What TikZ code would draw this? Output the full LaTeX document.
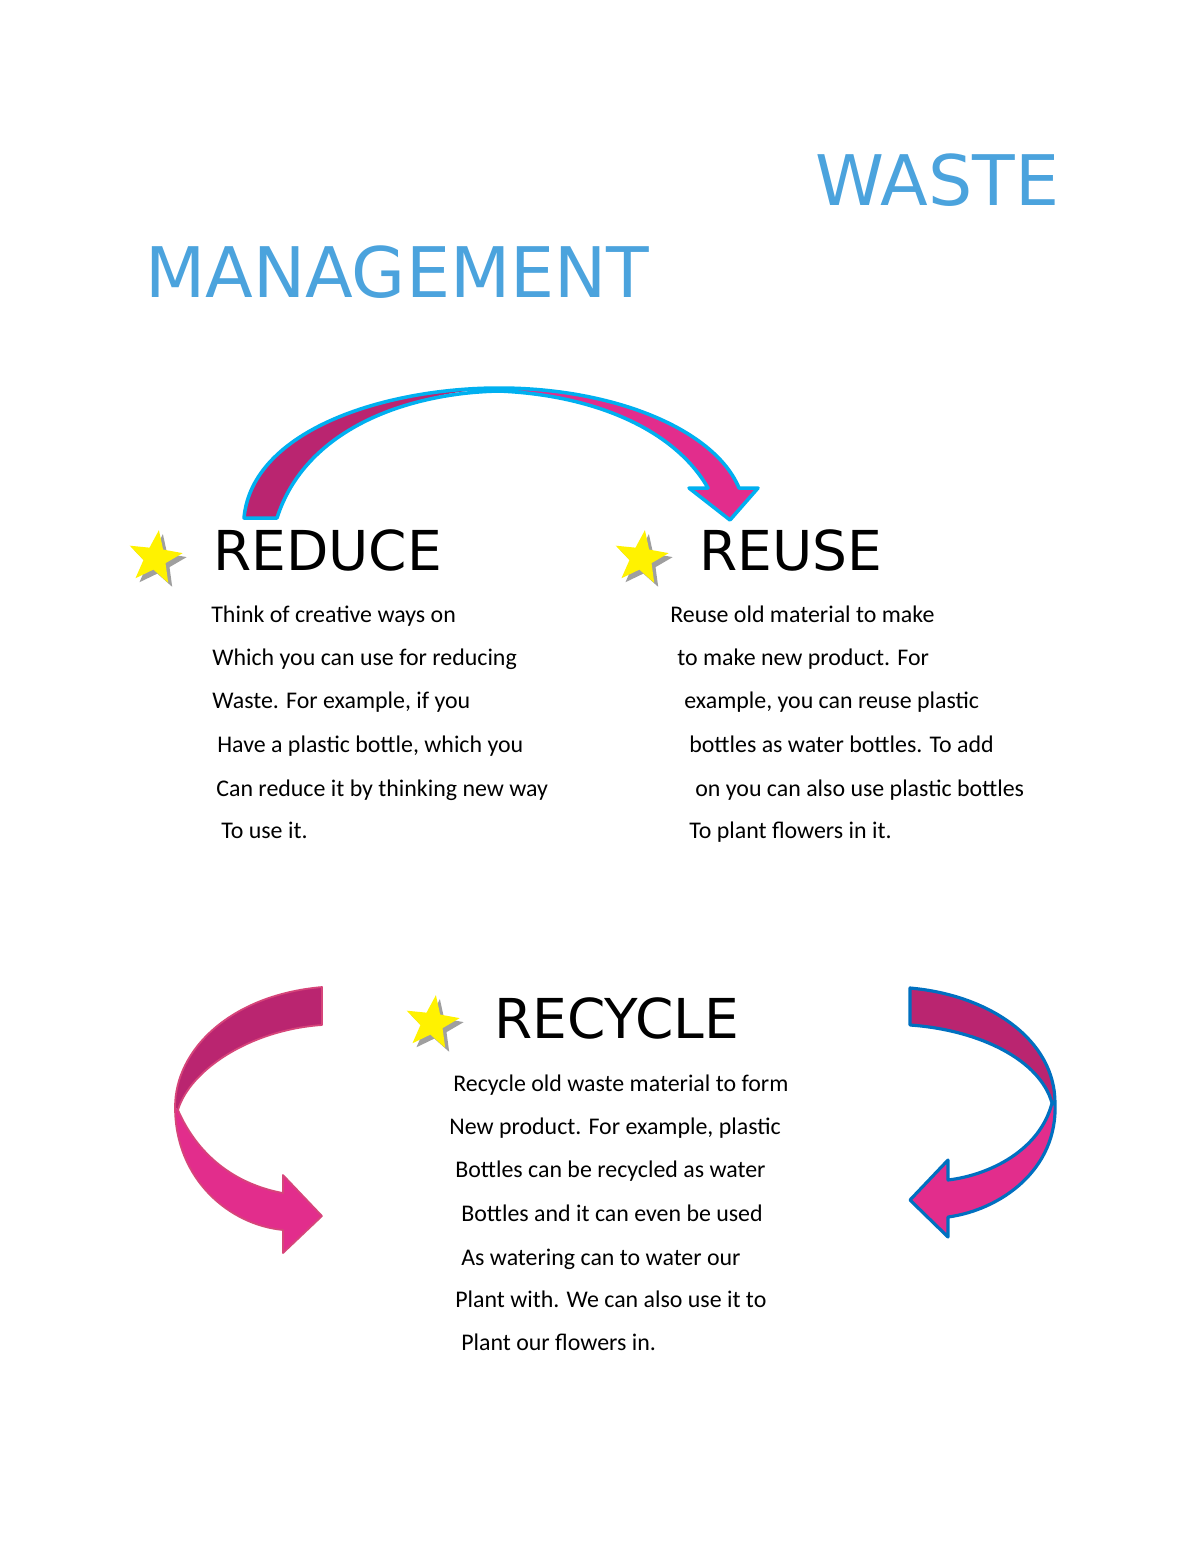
\documentclass[tikz,border=0pt]{standalone}
\usepackage{fontspec}
\setmainfont{Carlito}
\newfontfamily\headfont{DejaVu Sans}
\usetikzlibrary{shapes.geometric}
\definecolor{titleblue}{HTML}{4BA3DD}
\definecolor{darkmag}{HTML}{BA2570}
\definecolor{brightmag}{HTML}{E22D8C}
\definecolor{cyanline}{HTML}{00B0F0}
\definecolor{pinkline}{HTML}{D6457A}
\definecolor{blueline}{HTML}{0070C0}
\tikzset{
 title/.style={font=\headfont\fontsize{39.7}{46}\selectfont, text=titleblue, anchor=base west, inner sep=0pt},
 head/.style={font=\headfont\fontsize{31.3}{38}\selectfont, anchor=base west, inner sep=0pt},
 body/.style={font=\fontsize{13.6}{17}\selectfont, anchor=base west, inner sep=0pt},
 starmark/.style={star, star points=5, star point ratio=2.4, minimum size=32pt, inner sep=0pt, fill=yellow, rotate=-8},
 starshadow/.style={starmark, fill=gray!75},
}
\begin{document}
\begin{tikzpicture}[x=0.02cm,y=-0.02cm]
\useasboundingbox (0,0) rectangle (1200,1553);
% titles
\node[title] (waste) at (815,205) {WASTE};
\node[title] (mgmt) at (145,297) {MANAGEMENT};
% top arrow
\fill[darkmag] (244,518) .. controls (252,430) and (385,388) .. (499,388) .. controls (405,393) and (305,430) .. (277,518) -- cycle;
\fill[brightmag] (499,388) .. controls (615,388) and (715,430) .. (739,488) -- (758,488) -- (730,520) -- (689,488) -- (708,488) .. controls (675,430) and (595,395) .. (499,391) -- cycle;
\draw[cyanline, line width=2pt, line join=round] (244,518) .. controls (252,430) and (385,388) .. (499,388) .. controls (615,388) and (715,430) .. (739,488) -- (758,488) -- (730,520) -- (689,488) -- (708,488) .. controls (675,430) and (595,395) .. (499,391) .. controls (405,393) and (305,430) .. (277,518) -- cycle;
% left arrow
\fill[darkmag] (322,987) .. controls (230,995) and (175,1050) .. (175,1107) -- (178,1110) .. controls (190,1070) and (250,1030) .. (322,1025) -- cycle;
\fill[brightmag] (175,1107) .. controls (175,1180) and (230,1225) .. (283,1230) -- (283,1253) -- (322,1216) -- (283,1175) -- (283,1193) .. controls (240,1185) and (200,1160) .. (178,1110) -- cycle;
\draw[pinkline, line width=1pt, line join=round] (322,987) .. controls (230,995) and (175,1050) .. (175,1107) .. controls (175,1180) and (230,1225) .. (283,1230) -- (283,1253) -- (322,1216) -- (283,1175) -- (283,1193) .. controls (240,1185) and (200,1160) .. (178,1110) .. controls (190,1070) and (250,1030) .. (322,1025) -- cycle;
% right arrow
\fill[darkmag] (910,988) .. controls (990,995) and (1055,1040) .. (1055,1103) -- (1052,1103) .. controls (1040,1060) and (980,1030) .. (910,1025) -- cycle;
\fill[brightmag] (1055,1103) .. controls (1058,1170) and (1000,1210) .. (948,1217) -- (948,1237) -- (910,1200) -- (948,1160) -- (948,1180) .. controls (990,1175) and (1040,1150) .. (1052,1103) -- cycle;
\draw[blueline, line width=1.8pt, line join=round] (910,988) .. controls (990,995) and (1055,1040) .. (1055,1103) .. controls (1058,1170) and (1000,1210) .. (948,1217) -- (948,1237) -- (910,1200) -- (948,1160) -- (948,1180) .. controls (990,1175) and (1040,1150) .. (1052,1103) .. controls (1040,1060) and (980,1030) .. (910,1025) -- cycle;
% stars
\node[starshadow] (s1s) at (159,562) {};
\node[starmark] (s1) at (155,558) {};
\node[starshadow] (s2s) at (645,562) {};
\node[starmark] (s2) at (641,558) {};
\node[starshadow] (s3s) at (436,1027) {};
\node[starmark] (s3) at (432,1023) {};
% headings
\node[head] (reduce) at (213,570) {REDUCE};
\node[head] (reuse) at (699,570) {REUSE};
\node[head] (recycle) at (494,1038) {RECYCLE};
% reduce text
\node[body] (a1) at (211,622) {Think of creative ways on};
\node[body] (a2) at (212,665) {Which you can use for reducing};
\node[body] (a3) at (212,708) {Waste. For example, if you};
\node[body] (a4) at (217,752) {Have a plastic bottle, which you};
\node[body] (a5) at (216,796) {Can reduce it by thinking new way};
\node[body] (a6) at (221,838) {To use it.};
% reuse text
\node[body] (b1) at (670,622) {Reuse old material to make};
\node[body] (b2) at (677,665) {to make new product. For};
\node[body] (b3) at (684,708) {example, you can reuse plastic};
\node[body] (b4) at (689,752) {bottles as water bottles. To add};
\node[body] (b5) at (695,796) {on you can also use plastic bottles};
\node[body] (b6) at (689,838) {To plant flowers in it.};
% recycle text
\node[body] (c1) at (453,1091) {Recycle old waste material to form};
\node[body] (c2) at (449,1134) {New product. For example, plastic};
\node[body] (c3) at (455,1177) {Bottles can be recycled as water};
\node[body] (c4) at (461,1221) {Bottles and it can even be used};
\node[body] (c5) at (461,1265) {As watering can to water our};
\node[body] (c6) at (455,1307) {Plant with. We can also use it to};
\node[body] (c7) at (461,1350) {Plant our flowers in.};
\end{tikzpicture}
\end{document}
